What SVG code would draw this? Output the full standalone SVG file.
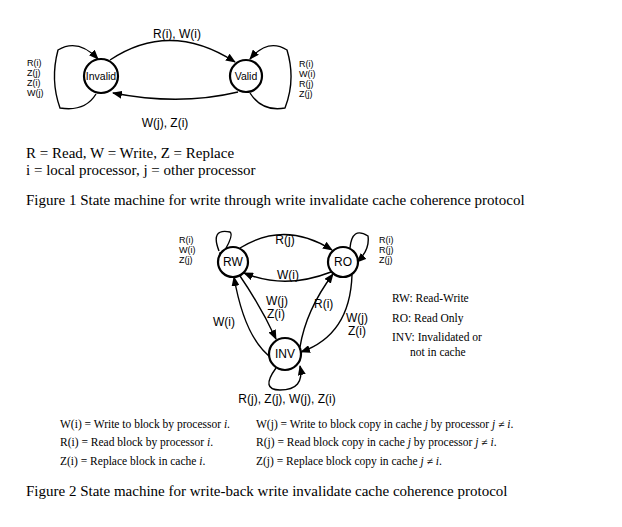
<svg xmlns="http://www.w3.org/2000/svg" width="622" height="527" viewBox="0 0 622 527">
<style>
.n{fill:#fff;stroke:#000;stroke-width:2.2}
.c{fill:none;stroke:#000;stroke-width:1.4}
.s{font-family:"Liberation Sans",Arial,sans-serif;font-size:12px}
.k{font-family:"Liberation Sans",Arial,sans-serif;font-size:10.5px}
.q{font-family:"Liberation Sans",Arial,sans-serif;font-size:9px}
.t{font-family:"Liberation Serif","Times New Roman",serif;font-size:15px}
.m{font-family:"Liberation Serif","Times New Roman",serif;font-size:11.5px}
</style>
<defs><marker id="a" markerWidth="10" markerHeight="8" refX="9" refY="4" orient="auto" markerUnits="userSpaceOnUse"><path d="M0,0L10,4L0,8z"/></marker></defs>
<rect width="622" height="527" fill="#fff"/>
<g id="connectors">
<path class="c" marker-end="url(#a)" d="M110,60 Q170,20 235,62"/>
<path class="c" marker-end="url(#a)" d="M238,92 Q180,106 113,93"/>
<path class="c" marker-end="url(#a)" d="M96,94 Q85,112 60,108 Q50,80 58,50 Q78,38 98,59"/>
<path class="c" marker-end="url(#a)" d="M250,93 Q262,112 285,108 Q296,80 287,50 Q268,38 250,59"/>
<path class="c" marker-end="url(#a)" d="M240,248 Q285,220 332,250"/>
<path class="c" marker-end="url(#a)" d="M331,272 Q285,290 244,273"/>
<path class="c" marker-end="url(#a)" d="M240,276 Q260,305 276,339"/>
<path class="c" marker-end="url(#a)" d="M273,359 Q245,340 234,277"/>
<path class="c" marker-end="url(#a)" d="M300,347 Q306,310 333,274"/>
<path class="c" marker-end="url(#a)" d="M352,275 Q350,335 301,352"/>
<path class="c" marker-end="url(#a)" d="M219,251 Q210,228 230,232 Q235,236 218,261"/>
<path class="c" marker-end="url(#a)" d="M350,248 Q352,226 368,236 Q370,250 357,262"/>
<path class="c" marker-end="url(#a)" d="M276,368 Q260,390 280,390 Q305,390 300,366"/>
</g>
<g id="invalid"><circle class="n" cx="101" cy="76" r="17"/><text class="k" x="101" y="80" text-anchor="middle">Invalid</text></g>
<g id="valid"><circle class="n" cx="246" cy="76" r="16"/><text class="k" x="246" y="80" text-anchor="middle">Valid</text></g>
<g id="rw"><circle class="n" cx="233" cy="262" r="15"/><text class="s" x="233" y="266" text-anchor="middle">RW</text></g>
<g id="ro"><circle class="n" cx="343" cy="262" r="15"/><text class="s" x="343" y="266" text-anchor="middle">RO</text></g>
<g id="inv"><circle class="n" cx="285" cy="354" r="16"/><text class="s" x="285" y="358" text-anchor="middle">INV</text></g>
<g class="s">
<text x="177" y="38" text-anchor="middle">R(i), W(i)</text>
<text x="165" y="127" text-anchor="middle">W(j), Z(i)</text>
<text x="285" y="244" text-anchor="middle">R(j)</text>
<text x="288" y="279" text-anchor="middle">W(i)</text>
<text x="266" y="305">W(j)</text><text x="267" y="318">Z(i)</text>
<text x="314" y="308">R(i)</text>
<text x="213" y="326">W(i)</text>
<text x="346" y="322">W(j)</text><text x="348" y="335">Z(i)</text>
<text x="287" y="403" text-anchor="middle">R(j), Z(j), W(j), Z(i)</text>
</g>
<g class="q">
<text x="27" y="66">R(i)</text><text x="27" y="76">Z(j)</text><text x="27" y="86">Z(i)</text><text x="27" y="96">W(j)</text>
<text x="299" y="67">R(i)</text><text x="299" y="77">W(i)</text><text x="299" y="87">R(j)</text><text x="299" y="97">Z(j)</text>
<text x="179" y="243">R(i)</text><text x="179" y="253">W(i)</text><text x="179" y="263">Z(j)</text>
<text x="379" y="243">R(i)</text><text x="379" y="253">R(j)</text><text x="379" y="263">Z(j)</text>
</g>
<g class="t">
<text x="26" y="158">R = Read, W = Write, Z = Replace</text>
<text x="26" y="175">i = local processor, j = other processor</text>
<text x="26" y="205">Figure 1 State machine for write through write invalidate cache coherence protocol</text>
<text x="26" y="496">Figure 2 State machine for write-back write invalidate cache coherence protocol</text>
</g>
<g class="m">
<text x="392" y="302">RW: Read-Write</text>
<text x="392" y="322">RO: Read Only</text>
<text x="392" y="341">INV:  Invalidated  or</text>
<text x="410" y="356">not in cache</text>
<text x="60" y="428">W(i) = Write to block by processor <tspan font-style="italic">i</tspan>.</text>
<text x="60" y="446">R(i) = Read block by processor <tspan font-style="italic">i</tspan>.</text>
<text x="60" y="465">Z(i) = Replace block in cache <tspan font-style="italic">i</tspan>.</text>
<text x="256" y="428">W(j) = Write to block copy in cache <tspan font-style="italic">j</tspan> by processor <tspan font-style="italic">j</tspan> ≠ <tspan font-style="italic">i</tspan>.</text>
<text x="256" y="446">R(j) = Read block copy in cache <tspan font-style="italic">j</tspan> by processor <tspan font-style="italic">j</tspan> ≠ <tspan font-style="italic">i</tspan>.</text>
<text x="256" y="465">Z(j) = Replace block copy in cache <tspan font-style="italic">j</tspan> ≠ <tspan font-style="italic">i</tspan>.</text>
</g>
</svg>
